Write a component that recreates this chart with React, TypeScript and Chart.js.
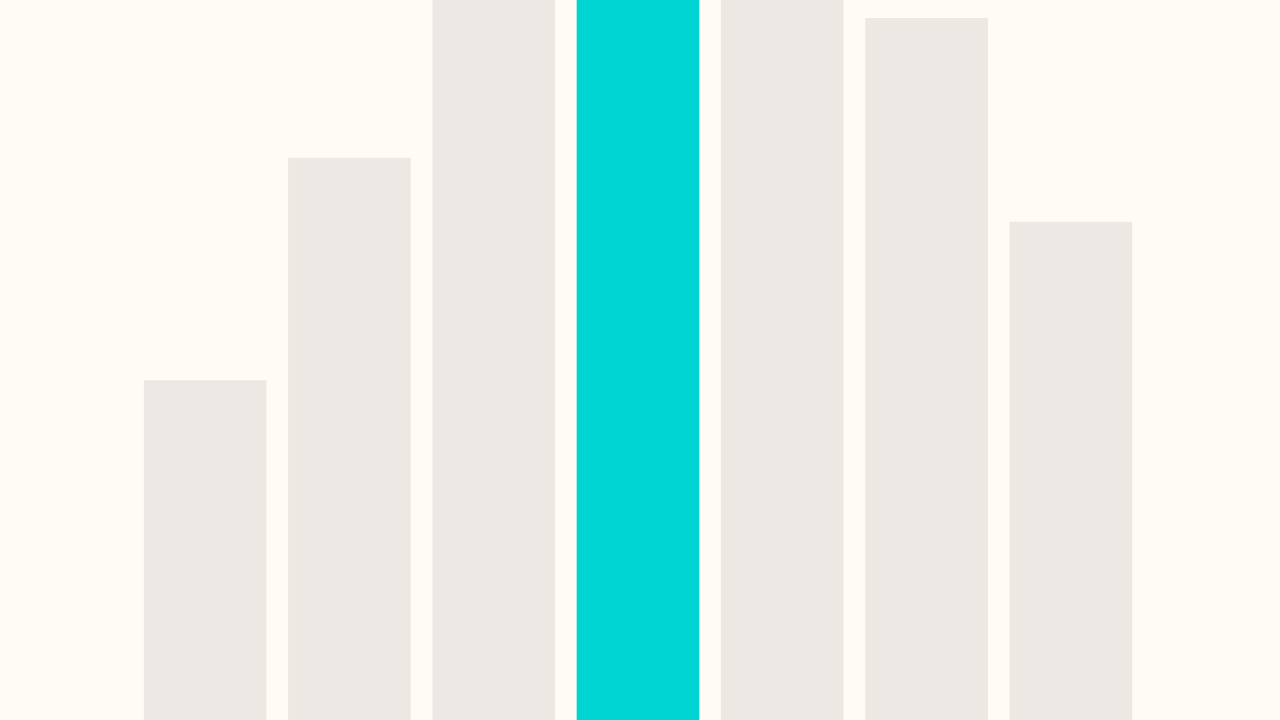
import React, { useEffect, useRef } from "react";
import { Chart, registerables } from "chart.js";

Chart.register(...registerables);

const categories = ["1", "2", "3", "4", "5", "6", "7"];
const values = [47.2, 78.1, 104, 108, 105, 97.5, 69.2];
const highlightIndex = 3;

const BG = "#FFFCF6";
const BAR = "#ECE9E4";
const HIGHLIGHT = "#00D5D3";

export default function App() {
  const ref = useRef<HTMLCanvasElement | null>(null);

  useEffect(() => {
    document.body.style.margin = "0";
    document.body.style.background = BG;
    const canvas = ref.current;
    if (!canvas) return;
    const chart = new Chart(canvas, {
      type: "bar",
      data: {
        labels: categories,
        datasets: [
          {
            data: values,
            backgroundColor: values.map((_, i) => (i === highlightIndex ? HIGHLIGHT : BAR)),
            borderWidth: 0,
            categoryPercentage: 1,
            barPercentage: 0.85,
          },
        ],
      },
      options: {
        animation: false,
        responsive: true,
        maintainAspectRatio: false,
        layout: { padding: { left: 133, right: 137, top: 0, bottom: 0 } },
        plugins: { legend: { display: false }, tooltip: { enabled: false } },
        scales: {
          x: { display: false },
          y: { display: false, min: 0, max: 100 },
        },
      },
    });
    return () => chart.destroy();
  }, []);

  return (
    <div style={{ width: 1280, height: 720, background: BG, position: "relative" }}>
      <canvas ref={ref} />
    </div>
  );
}
